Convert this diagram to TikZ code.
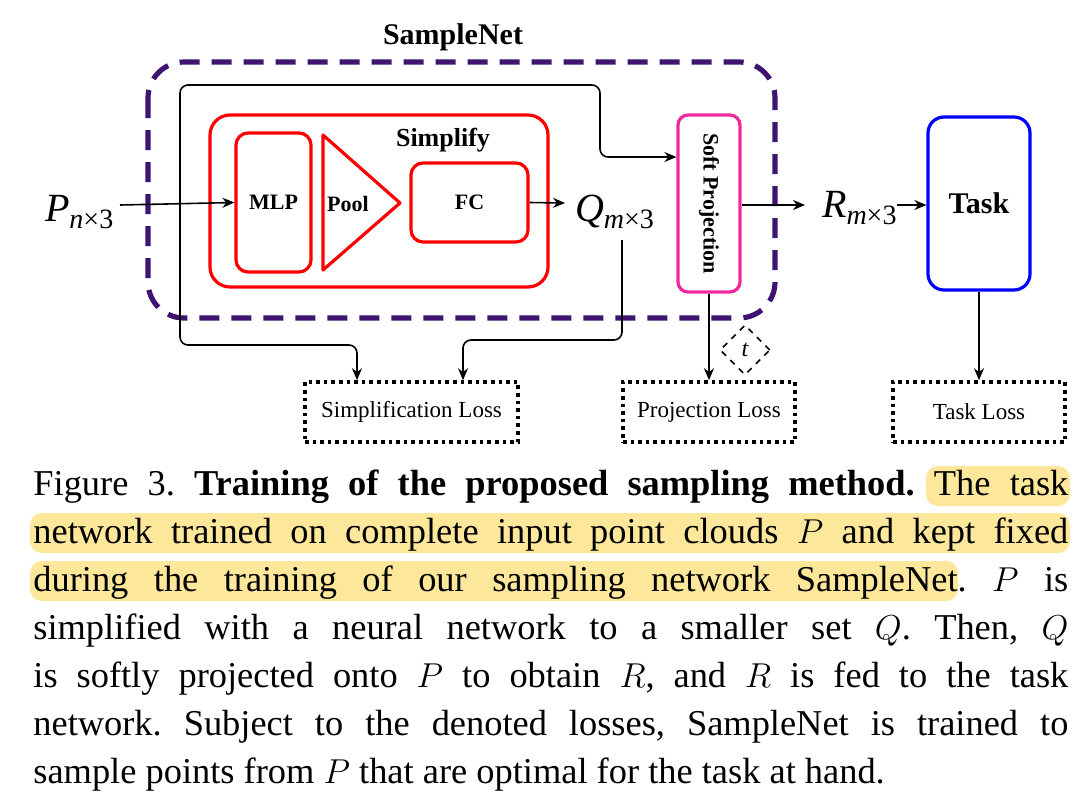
\documentclass[tikz,border=0pt]{standalone}
\usepackage{fontspec}
\setmainfont{Liberation Serif}
\usetikzlibrary{shapes.geometric,arrows.meta}
\definecolor{dpurple}{HTML}{3F1470}
\definecolor{hly}{HTML}{FCE79A}
\begin{document}
\frenchspacing
\begin{tikzpicture}[x=0.5pt,y=-0.5pt,
  arr/.style={-{Stealth[length=6pt,width=5pt]},line width=0.8pt},
  ln/.style={line width=0.8pt},
  redbox/.style={draw=red,line width=1.6pt,rounded corners=6pt},
  loss/.style={draw,line width=1.8pt,dotted,minimum width=0,inner sep=0},
  lab/.style={font=\fontsize{20}{22}\selectfont\itshape}]
\useasboundingbox (0,0) rectangle (1088,798);
% highlights
\fill[hly,rounded corners=6pt] (926,466) rectangle (1070,506);
\fill[hly,rounded corners=6pt] (30,513) rectangle (1070,553);
\fill[hly,rounded corners=6pt] (30,561) rectangle (958,601);
% SampleNet
\node[font=\fontsize{15}{17}\bfseries\selectfont] (sn) at (453,37) {SampleNet};
\draw[dpurple,line width=2.6pt,dash pattern=on 10pt off 6pt,rounded corners=18pt] (148,62) rectangle (775,318);
% outer red
\draw[redbox,rounded corners=10pt] (210,115) rectangle (548,287);
\node[font=\fontsize{13}{15}\bfseries\selectfont] (simp) at (443,140) {Simplify};
\node[redbox,minimum width=37.5pt,minimum height=69.5pt,font=\fontsize{11}{13}\bfseries\selectfont] (mlp) at (273.5,202.5) {MLP};
\draw[red,line width=1.6pt,line join=round] (323,135) -- (323,270) -- (400,203) -- cycle;
\node[font=\fontsize{11}{13}\bfseries\selectfont] (pool) at (348,204) {Pool};
\node[redbox,minimum width=58.5pt,minimum height=39.5pt,font=\fontsize{11}{13}\bfseries\selectfont] (fc) at (469.5,202.5) {FC};
% labels
\node[lab,anchor=west] (P) at (38,212) {P\textsubscript{\fontsize{14}{16}\selectfont n\upshape×3}};
\node[lab,anchor=west] (Q) at (568,212) {Q\textsubscript{\fontsize{14}{16}\selectfont m\upshape×3}};
\node[lab,anchor=west] (R) at (815,208) {R\textsubscript{\fontsize{14}{16}\selectfont m\upshape×3}};
% soft projection
\node[draw={rgb,255:red,240;green,40;blue,160},line width=1.6pt,rounded corners=5pt,minimum width=31pt,minimum height=88.5pt] (sp) at (709,203.5) {};
\node[rotate=-90,font=\fontsize{11}{13}\bfseries\selectfont] at (sp.center) {Soft Projection};
% task
\node[draw=blue,line width=1.6pt,rounded corners=8pt,minimum width=51pt,minimum height=86.5pt,font=\fontsize{15}{17}\bfseries\selectfont] (task) at (979,203.5) {Task};
% losses
\node[loss,minimum width=106.5pt,minimum height=30pt,font=\fontsize{11.5}{13}\selectfont] (sl) at (411.5,412) {Simplification Loss};
\node[loss,minimum width=86pt,minimum height=30pt,font=\fontsize{11.5}{13}\selectfont] (pl) at (709,412) {Projection Loss};
\node[loss,minimum width=86pt,minimum height=30pt,font=\fontsize{11.5}{13}\selectfont] (tl) at (979,412) {Task Loss};
\node[draw,dashed,diamond,line width=0.8pt,inner sep=1pt,minimum size=25pt,font=\fontsize{12}{14}\itshape\selectfont] (t) at (745,350) {t};
% arrows
\draw[arr] (120,205) -- (mlp.west);
\draw[arr] (fc.east) -- (565,203);
\draw[arr] (sp.east |- 0,205) -- (805,205);
\draw[arr] (897,205) -- (task.west |- 0,205);
\draw[ln,rounded corners=4pt] (180,205) -- (180,85) -- (600,85) -- (600,157) -- (620,157);
\draw[arr] (618,157) -- (sp.west |- 0,157);
\draw[arr,rounded corners=4pt] (180,205) -- (180,345) -- (357,345) -- (sl.north -| 357,0);
\draw[arr,rounded corners=4pt] (622,240) -- (622,340) -- (463,340) -- (sl.north -| 463,0);
\draw[arr] (sp.south) -- (pl.north);
\draw[arr] (task.south) -- (tl.north);
% caption
\node[anchor=north west,inner sep=0,text width=517.5pt,align=justify,font=\fontsize{18.2}{24}\selectfont] (cap) at (33,469) {\frenchspacing Figure 3. \textbf{Training of the proposed sampling method.} The task\linebreak network trained on complete input point clouds $P$ and kept fixed\linebreak during the training of our sampling network SampleNet. $P$ is\linebreak simplified with a neural network to a smaller set $Q$. Then, $Q$\linebreak is softly projected onto $P$ to obtain $R$, and $R$ is fed to the task\linebreak network. Subject to the denoted losses, SampleNet is trained to\linebreak sample points from $P$ that are optimal for the task at hand.\par};
\end{tikzpicture}
\end{document}
